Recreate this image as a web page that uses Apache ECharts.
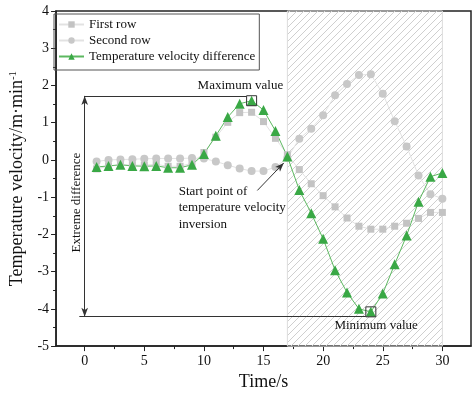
<!DOCTYPE html>
<html>
<head>
<meta charset="utf-8">
<script src="https://cdn.jsdelivr.net/npm/echarts@6/dist/echarts.min.js"></script>
<style>
html,body{margin:0;padding:0;background:#fff;}
#main{width:474px;height:396px;}
</style>
</head>
<body>
<div id="main"></div>
<script>
var times = [1,2,3,4,5,6,7,8,9,10,11,12,13,14,15,16,17,18,19,20,21,22,23,24,25,26,27,28,29,30];
var firstRow = [-0.24,-0.17,-0.13,-0.14,-0.14,-0.12,-0.17,-0.17,-0.09,0.20,0.61,1.01,1.27,1.28,1.03,0.58,0.14,-0.26,-0.64,-0.96,-1.26,-1.56,-1.78,-1.86,-1.86,-1.78,-1.70,-1.57,-1.41,-1.41];
var secondRow = [-0.04,0.00,0.01,0.02,0.03,0.04,0.04,0.04,0.05,0.04,-0.04,-0.14,-0.23,-0.30,-0.30,-0.19,0.05,0.57,0.84,1.20,1.74,2.04,2.28,2.30,1.78,1.04,0.36,-0.42,-0.92,-1.04];
var diffRow = [-0.19,-0.16,-0.13,-0.16,-0.17,-0.16,-0.21,-0.21,-0.13,0.16,0.65,1.15,1.51,1.59,1.34,0.78,0.09,-0.81,-1.43,-2.12,-2.96,-3.56,-4.00,-4.08,-3.59,-2.80,-2.03,-1.12,-0.45,-0.35];
var xTicks = [0,5,10,15,20,25,30];
var xMinorTicks = [2.5,7.5,12.5,17.5,22.5,27.5];
var shadeRange = [17,30];

var font = 'Liberation Serif';

function pairs(ys){
	var out = [];
	for(var i=0;i<times.length;i++){
		out.push([times[i], ys[i]]);
	}
	return out;
}

// hatch pattern for the shaded area
function hatch(){
	var c = document.createElement('canvas');
	var s = 7;
	c.width = s; c.height = s;
	var ctx = c.getContext('2d');
	ctx.strokeStyle = '#cfcfcf';
	ctx.lineWidth = 1;
	ctx.beginPath();
	ctx.moveTo(-1, s+1); ctx.lineTo(s+1, -1);
	ctx.moveTo(-1, 1); ctx.lineTo(1, -1);
	ctx.moveTo(s-1, s+1); ctx.lineTo(s+1, s-1);
	ctx.stroke();
	return c;
}

var maxV = Math.max.apply(null, diffRow);
var minV = Math.min.apply(null, diffRow);
var maxX = times[diffRow.indexOf(maxV)];
var minX = times[diffRow.indexOf(minV)];
var yTop = maxV + 0.13;
var yBot = minV - 0.13;
var startX = shadeRange[0];
var startY = diffRow[times.indexOf(startX)];

var myChart = echarts.init(document.getElementById('main'));
var option = {
	animation: false,
	grid: {left: 52, right: 3, top: 11, bottom: 46.5, show: true, borderColor: '#222', borderWidth: 1.5, backgroundColor: 'transparent'},
	legend: {
		orient: 'vertical', left: 54, top: 14,
		itemWidth: 25, itemHeight: 8, itemGap: 3,
		padding: [4, 4, 7, 4], borderColor: '#555', borderWidth: 1,
		selectedMode: false,
		textStyle: {fontFamily: font, fontSize: 13, color: '#111'},
		data: ['First row', 'Second row', 'Temperature velocity difference']
	},
	xAxis: [{
		type: 'value', min: -2.4, max: 32.4,
		name: 'Time/s', nameLocation: 'middle', nameGap: 23,
		nameTextStyle: {fontFamily: font, fontSize: 18, color: '#111'},
		axisLine: {onZero: false, lineStyle: {color: '#222', width: 1.5}},
		axisTick: {customValues: xTicks, length: 5, lineStyle: {color: '#222'}},
		axisLabel: {customValues: xTicks, margin: 8, fontFamily: font, fontSize: 14, color: '#111'},
		splitLine: {show: false}
	},{
		type: 'value', min: -2.4, max: 32.4, position: 'bottom',
		axisLine: {show: false, onZero: false},
		axisTick: {customValues: xMinorTicks, length: 3, lineStyle: {color: '#222'}},
		axisLabel: {show: false},
		splitLine: {show: false}
	}],
	yAxis: {
		type: 'value', min: -5, max: 4, interval: 1,
		name: 'Temperature velocity/m·min{s|-1}', nameLocation: 'middle', nameGap: 25,
		nameTextStyle: {fontFamily: font, fontSize: 18, color: '#111', rich: {s: {fontFamily: font, fontSize: 11, verticalAlign: 'top', padding: [0,0,8,0]}}},
		axisLine: {onZero: false, lineStyle: {color: '#222', width: 1.5}},
		axisTick: {length: 5, lineStyle: {color: '#222'}},
		minorTick: {show: true, splitNumber: 2, length: 3, lineStyle: {color: '#222'}},
		axisLabel: {margin: 7, fontFamily: font, fontSize: 14, color: '#111'},
		splitLine: {show: false}
	},
	series: [{
		name: 'First row', type: 'line', data: pairs(firstRow),
		symbol: 'rect', symbolSize: 7,
		itemStyle: {color: '#c3c3c3'},
		lineStyle: {color: '#e2e2e2', width: 1},
		markArea: {
			silent: true,
			itemStyle: {color: {image: hatch(), repeat: 'repeat'}, borderColor: '#dcdcdc', borderWidth: 1},
			data: [[{xAxis: shadeRange[0]}, {xAxis: shadeRange[1]}]]
		}
	},{
		name: 'Second row', type: 'line', data: pairs(secondRow),
		symbol: 'circle', symbolSize: 8,
		itemStyle: {color: '#c8c8c8'},
		lineStyle: {color: '#e2e2e2', width: 1}
	},{
		name: 'Temperature velocity difference', type: 'line', data: pairs(diffRow),
		symbol: 'triangle', symbolSize: 10,
		itemStyle: {color: '#39a845'},
		lineStyle: {color: '#5cb860', width: 1},
		markLine: {
			silent: true,
			label: {show: false},
			lineStyle: {color: '#333', width: 1, type: 'solid'},
			data: [
				[{coord: [0, yTop], symbol: 'none'}, {coord: [maxX - 0.42, yTop], symbol: 'none'}],
				[{coord: [-0.45, yBot], symbol: 'none'}, {coord: [minX - 0.42, yBot], symbol: 'none'}],
				[{coord: [0, yTop], symbol: 'arrow', symbolSize: [5, 9]}, {coord: [0, yBot], symbol: 'arrow', symbolSize: [5, 9]}],
				[{coord: [startX - 2.52, startY - 0.91], symbol: 'none'}, {coord: [startX - 0.3, startY - 0.17], symbol: 'arrow', symbolSize: [5, 9]}]
			]
		},
		markPoint: {
			silent: true,
			data: [
				{coord: [maxX, maxV], symbol: 'rect', symbolSize: 10, itemStyle: {color: 'rgba(0,0,0,0)', borderColor: '#333', borderWidth: 1}, label: {show: false}},
				{coord: [minX, minV], symbol: 'rect', symbolSize: 10, itemStyle: {color: 'rgba(0,0,0,0)', borderColor: '#333', borderWidth: 1}, label: {show: false}},
				{coord: [maxX - 0.94, maxV + 0.4], symbol: 'rect', symbolSize: 1, itemStyle: {color: 'rgba(0,0,0,0)'},
					label: {show: true, position: 'inside', formatter: 'Maximum value', fontFamily: font, fontSize: 13, color: '#111'}},
				{coord: [minX + 0.44, minV - 0.36], symbol: 'rect', symbolSize: 1, itemStyle: {color: 'rgba(0,0,0,0)'},
					label: {show: true, position: 'inside', formatter: 'Minimum value', fontFamily: font, fontSize: 13, color: '#111'}},
				{coord: [-0.64, (yTop + yBot) / 2 + 0.1], symbol: 'rect', symbolSize: 1, itemStyle: {color: 'rgba(0,0,0,0)'},
					label: {show: true, position: 'inside', rotate: 90, formatter: 'Extreme difference', fontFamily: font, fontSize: 13, color: '#111'}},
				{coord: [7.84, -1.28], symbol: 'rect', symbolSize: 1, itemStyle: {color: 'rgba(0,0,0,0)'},
					label: {show: true, position: 'right', distance: 0, align: 'left', lineHeight: 16.5, formatter: 'Start point of\ntemperature velocity\ninversion', fontFamily: font, fontSize: 13, color: '#111'}}
			]
		}
	}]
};
myChart.setOption(option);
</script>
</body>
</html>
